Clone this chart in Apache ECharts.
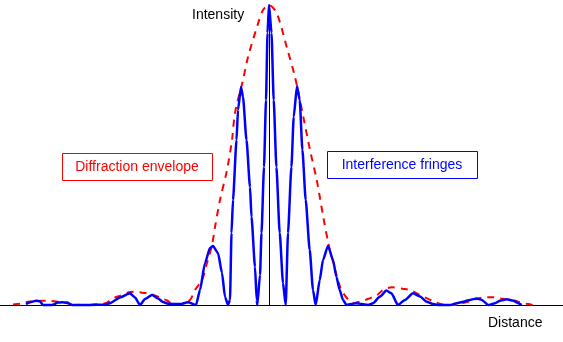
<!DOCTYPE html>
<html>
<head>
<meta charset="utf-8">
<script src="https://cdn.jsdelivr.net/npm/echarts@6/dist/echarts.min.js"></script>
<style>
html,body{margin:0;padding:0;background:#fff;}
#chart{width:563px;height:342px;}
</style>
</head>
<body>
<div id="chart"></div>
<script>
// Distance (arbitrary units, 0 = centre) and relative intensity
const fringeDistance = [-243,-238,-233,-229,-226,-217,-211,-207,-202,-197,-180,-165,-159,-149,-139,-134,-129,-124,-117,-111,-106,-101,-89,-81,-73,-69,-64,-59,-56,-51,-47,-44,-41,-39,-37.5,-36,-32.5,-31,-28,-26,-22.5,-19,-17.5,-14,-12.3,-11.7,-9,-7.5,-5,-3,-1.5,0,2.5,4.7,7.4,10.7,14,16.7,19,22.4,24.7,28,30.7,33.4,36.7,40.7,44,46.7,50.7,54,59,64,67.4,70.7,74,77.4,82.4,87.4,92.4,99,104,111,117.4,122.4,129,136,144,151,157.7,164,169,181,187.7,194.3,201,207.7,212.7,219.3,226,231,237.7,244.3,249.3,252.7];
const fringeIntensity = [0.003,0.010,0.014,0.012,0,0,0.008,0.009,0.008,0,0,0.001,0.006,0.025,0.039,0.025,0,0.02,0.033,0.022,0.01,0.004,0.003,0.009,0,0.05,0.14,0.19,0.197,0.173,0.107,0.027,0,0.017,0.24,0.35,0.55,0.65,0.727,0.693,0.55,0.393,0.293,0.127,0.017,0,0.1,0.24,0.46,0.683,0.907,1.0,0.907,0.683,0.46,0.24,0.073,0,0.24,0.46,0.627,0.73,0.683,0.517,0.35,0.183,0.05,0,0.083,0.15,0.197,0.15,0.094,0.05,0.017,0,0.003,0.006,0.003,0,0.006,0.028,0.048,0.039,0,0.017,0.039,0.028,0.011,0.003,0,0,0.006,0.011,0.017,0.022,0.017,0,0.006,0.014,0.019,0.014,0.006,0];

const envelopeDistance = [-256,-249,-241,-236,-227,-219,-212,-207,-197,-194,-183,-169,-162,-156,-149,-141,-134,-127,-119,-107,-102,-96,-88,-79,-74,-67,-62,-57,-54,-49,-42,-37,-34,-26,-21,-12,-6,0,7.7,17.7,26,34.3,41,47.7,54.3,59.3,64.3,71,74.3,81,85,94,99,108,114,123,136,141,151,158,164,174,189,193,203,206,216,223,232,246,251,259,264];
const envelopeIntensity = [0.002,0.004,0.011,0.012,0.014,0.014,0.011,0.009,0.002,0.001,0,0.003,0.008,0.023,0.03,0.042,0.044,0.041,0.038,0.022,0.015,0.003,0.003,0.017,0.05,0.083,0.14,0.2,0.26,0.35,0.45,0.55,0.64,0.75,0.827,0.927,0.983,1.0,0.973,0.86,0.76,0.627,0.517,0.417,0.293,0.207,0.14,0.061,0.039,0.012,0.007,0.014,0.02,0.033,0.05,0.059,0.053,0.05,0.033,0.022,0.013,0.002,0,0.006,0.014,0.019,0.026,0.026,0.022,0.014,0.009,0.003,0];

const labels = {
  yName: 'Intensity',
  xName: 'Distance',
  envelope: 'Diffraction envelope',
  fringes: 'Interference fringes'
};

const zip = (xs, ys) => xs.map((x, i) => [x, ys[i]]);
const FONT = '"Liberation Sans", Arial, sans-serif';

const chart = echarts.init(document.getElementById('chart'), null, {renderer: 'canvas'});
chart.setOption({
  animation: false,
  backgroundColor: '#ffffff',
  grid: {left: 0, right: 0, top: 5, bottom: 37},
  xAxis: {
    type: 'value', min: -269, max: 294,
    axisLine: {show: true, onZero: true, lineStyle: {color: '#000', width: 1}},
    axisTick: {show: false}, axisLabel: {show: false}, splitLine: {show: false}
  },
  yAxis: {
    type: 'value', min: 0, max: 1,
    axisLine: {show: true, onZero: true, lineStyle: {color: '#000', width: 1}},
    axisTick: {show: false}, axisLabel: {show: false}, splitLine: {show: false}
  },
  series: [
    {
      type: 'line', name: labels.envelope, data: zip(envelopeDistance, envelopeIntensity),
      showSymbol: false, clip: false, smooth: 0.3, z: 2,
      lineStyle: {color: '#ff0000', width: 2, type: [7, 6]}
    },
    {
      type: 'line', name: labels.fringes, data: zip(fringeDistance, fringeIntensity),
      showSymbol: false, clip: false, smooth: 0.2, smoothMonotone: 'x', z: 3,
      lineStyle: {color: '#0000ff', width: 2.5}
    }
  ],
  graphic: [
    {type: 'text', left: 192, top: 8, style: {text: labels.yName, font: '14px ' + FONT, fill: '#000'}},
    {type: 'text', left: 488, top: 316, style: {text: labels.xName, font: '14px ' + FONT, fill: '#000'}},
    {type: 'rect', shape: {x: 62.5, y: 153.5, width: 150, height: 27}, style: {fill: 'none', stroke: '#ff0000', lineWidth: 1}},
    {type: 'text', x: 137, y: 167, style: {text: labels.envelope, font: '14px ' + FONT, fill: '#ff0000', textAlign: 'center', textVerticalAlign: 'middle'}},
    {type: 'rect', shape: {x: 327.5, y: 151.5, width: 150, height: 27}, style: {fill: 'none', stroke: '#0000ff', lineWidth: 1}},
    {type: 'text', x: 402, y: 165.5, style: {text: labels.fringes, font: '14px ' + FONT, fill: '#0000ff', textAlign: 'center', textVerticalAlign: 'middle'}}
  ]
});
</script>
</body>
</html>
